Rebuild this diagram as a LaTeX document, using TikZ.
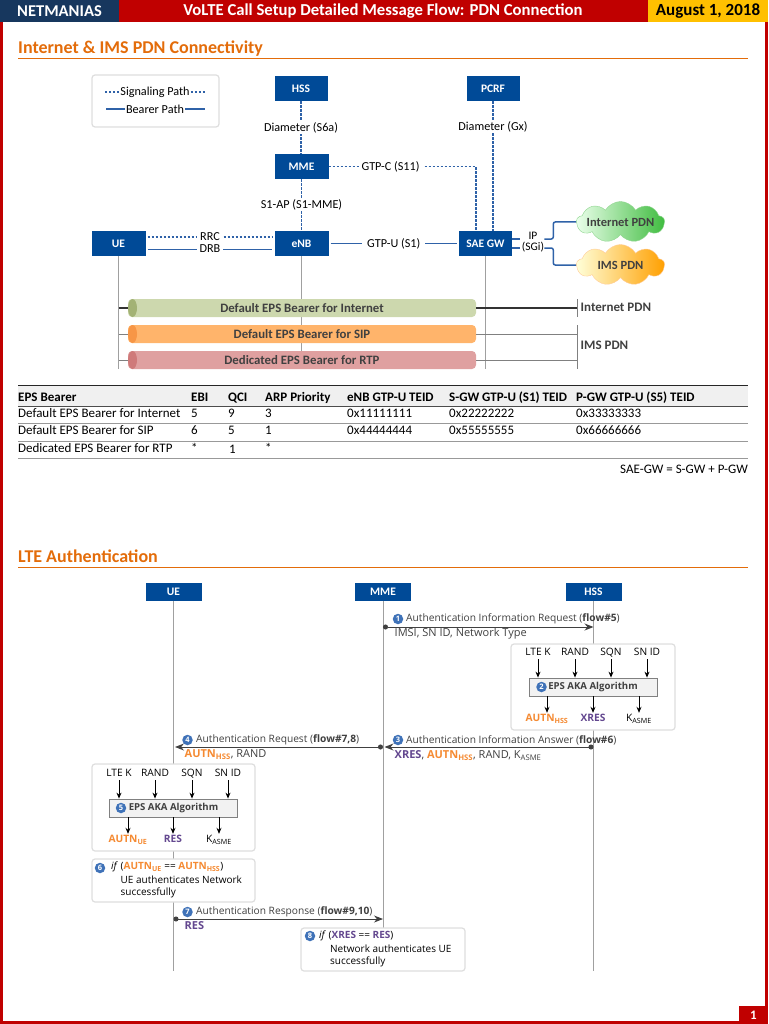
\documentclass[tikz,border=0pt]{standalone}
\usepackage{fontspec}
\setmainfont{Carlito}
\newfontfamily\msgfont{Open Sans}
\usetikzlibrary{arrows.meta,shapes.symbols}
\definecolor{barred}{HTML}{C00000}
\definecolor{brandnavy}{HTML}{17375E}
\definecolor{dategold}{HTML}{FFC000}
\definecolor{headorange}{HTML}{E36C0A}
\definecolor{netblue}{HTML}{004A97}
\definecolor{pathblue}{HTML}{2F62A8}
\definecolor{stepblue}{HTML}{3F72B8}
\definecolor{autnorange}{HTML}{F58A32}
\definecolor{respurple}{HTML}{63478F}
\definecolor{msggray}{HTML}{404040}
\definecolor{panelline}{HTML}{DEDEDE}
\definecolor{lifegray}{HTML}{A0A0A0}
\definecolor{pipegreen}{HTML}{CDD8AE}
\definecolor{capgreen}{HTML}{A3B275}
\definecolor{pipeorange}{HTML}{FFB46B}
\definecolor{caporange}{HTML}{F79646}
\definecolor{piperose}{HTML}{DFA0A0}
\definecolor{caprose}{HTML}{CF7A7A}
\newcommand{\autn}[1]{\textcolor{autnorange}{\textbf{AUTN\textsubscript{#1}}}}
\newcommand{\resb}[1]{\textcolor{respurple}{\textbf{#1}}}
\newcommand{\kasme}{K\textsubscript{ASME}}

\begin{document}
\begin{tikzpicture}[x=1pt, y=-1pt, >={Stealth[length=6pt,width=5pt]},
    netbox/.style={fill=netblue, text=white, font=\fontsize{11.5}{13}\selectfont\bfseries, inner sep=0pt, minimum width=53pt, minimum height=25pt},
    seqbox/.style={netbox, minimum width=56pt, minimum height=18pt},
    signal/.style={draw=pathblue, dash pattern=on 2.5pt off 1.5pt, line width=1.5pt},
    bearer/.style={draw=pathblue, line width=1.5pt},
    plainlbl/.style={font=\fontsize{12.2}{14}\selectfont, text=black, inner sep=1pt},
    cutlbl/.style={plainlbl, fill=white, inner xsep=3pt, inner ysep=1pt},
    heading/.style={font=\fontsize{18}{20}\selectfont\bfseries, text=headorange, anchor=west, inner sep=0pt},
    pipe/.style={rounded corners=4pt, inner sep=0pt, minimum width=348pt, minimum height=18pt},
    pipetxt/.style={font=\fontsize{12.8}{14}\selectfont\bfseries, text=msggray, inner sep=0pt},
    pdncloud/.style={cloud, cloud puffs=9, cloud puff arc=120, aspect=2.2, inner sep=0pt, minimum width=88pt, minimum height=41pt, font=\fontsize{12.5}{14}\selectfont\bfseries, text=msggray, shading angle=20},
    cell/.style={font=\fontsize{13}{15}\selectfont, text=black, anchor=west, inner sep=0pt, text height=9pt, text depth=3pt},
    headcell/.style={cell, font=\fontsize{13}{15}\selectfont\bfseries},
    msgtxt/.style={font=\msgfont\fontsize{10.2}{12}\selectfont, text=msggray, anchor=west, inner sep=0pt},
    subtxt/.style={msgtxt, font=\msgfont\fontsize{11}{13}\selectfont},
    notetxt/.style={msgtxt, font=\msgfont\fontsize{10}{12}\selectfont, text=black},
    stepno/.style={circle, fill=stepblue, text=white, font=\msgfont\fontsize{7.5}{8}\selectfont\bfseries, inner sep=0pt, minimum size=10.5pt},
    panel/.style={draw=panelline, line width=1.2pt, fill=white, rounded corners=3pt, inner sep=0pt},
    algo/.style={draw=gray, fill=black!5, line width=0.8pt, font=\msgfont\fontsize{9.6}{11}\selectfont\bfseries, text=msggray, inner sep=0pt, minimum width=128pt, minimum height=18pt},
    iotxt/.style={font=\msgfont\fontsize{10.2}{12}\selectfont, text=black, inner sep=1pt, text height=7.5pt, text depth=2.5pt},
    ioline/.style={->, draw=black, line width=0.9pt},
    life/.style={draw=lifegray, line width=1pt},
    msgline/.style={{Circle[length=5pt]}-{Stealth[length=9pt,width=7pt]}, draw=msggray, line width=1pt}]
  \useasboundingbox (0,0) rectangle (768,1024);

  \fill[barred] (0,0) rectangle (768,22);
  \fill[barred] (0,0) rectangle (3,1024);
  \fill[barred] (765,0) rectangle (768,1024);
  \fill[barred] (0,1021) rectangle (768,1024);
  \node[fill=brandnavy, text=white, font=\fontsize{16.5}{18}\selectfont\bfseries, minimum width=119pt, minimum height=22pt, inner sep=0pt] (brand) at (59.5,11) {NETMANIAS};
  \node[text=white, font=\fontsize{16.7}{18}\selectfont\bfseries, inner sep=0pt] (title) at (383,11) {VoLTE Call Setup Detailed Message Flow: PDN Connection};
  \node[fill=dategold, text=black, font=\fontsize{17}{19}\selectfont\bfseries, minimum width=120pt, minimum height=22pt, inner sep=0pt] (datebox) at (708,11) {August 1, 2018};
  \node[fill=barred, text=white, font=\fontsize{13}{15}\selectfont\bfseries, minimum width=29pt, minimum height=18pt, inner sep=0pt] (pageno) at (753.5,1015) {1};

  \node[heading] (secA) at (18,48.5) {Internet \& IMS PDN Connectivity};
  \draw[headorange, line width=0.8pt] (18,58) -- (748,58);

  \node[panel, minimum width=127pt, minimum height=52pt] (legend) at (155.5,101) {};
  \node[plainlbl] (sigtxt) at (155,92) {Signaling Path};
  \node[plainlbl] (beartxt) at (155,109) {Bearer Path};
  \draw[signal] (sigtxt.west) -- ++(-16,0);
  \draw[signal] (sigtxt.east) -- ++(16,0);
  \draw[bearer] (beartxt.west) -- ++(-19,0);
  \draw[bearer] (beartxt.east) -- ++(20,0);

  \node[netbox] (hss) at (301,88.5) {HSS};
  \node[netbox] (pcrf) at (493,88.5) {PCRF};
  \node[netbox, minimum width=54pt] (mme) at (301.5,166.5) {MME};
  \node[netbox, minimum width=54pt] (enb) at (301.5,243.5) {eNB};
  \node[netbox, minimum width=54pt] (ue) at (118.5,243.5) {UE};
  \node[netbox] (saegw) at (485.5,243.5) {SAE GW};
  \coordinate (s11end) at (476,231);

  \draw[signal] (hss.south) -- node[cutlbl] (s6a) {Diameter (S6a)} (hss.south|-mme.north);
  \draw[signal] (pcrf.south) -- node[cutlbl, pos=0.2] (gx) {Diameter (Gx)} (pcrf.south|-saegw.north);
  \draw[signal] (mme.east) -| node[cutlbl, pos=0.21] (s11) {GTP-C (S11)} (s11end);
  \draw[signal] (mme.south) -- node[cutlbl] (s1ap) {S1-AP (S1-MME)} (enb.north);
  \draw[signal, shorten <=2pt, shorten >=2pt] (ue.east|-0,237) -- node[cutlbl] (rrc) {RRC} (enb.west|-0,237);
  \draw[bearer, line width=0.9pt, shorten <=2pt, shorten >=2pt] (ue.east|-0,249) -- node[cutlbl] (drb) {DRB} (enb.west|-0,249);
  \draw[bearer, shorten <=2pt, shorten >=2pt] (enb.east) -- node[cutlbl, inner xsep=5pt] (s1u) {GTP-U (S1)} (saegw.west);

  \node[pdncloud, draw=green!45!gray!60, left color=green!8, right color=green!65!black!75] (inet) at (620.5,222) {\makebox[0pt]{Internet PDN}};
  \node[pdncloud, draw=orange!40, left color=yellow!15, right color=orange!75!yellow] (ims) at (620.5,265) {\makebox[0pt]{IMS PDN}};
  \node[plainlbl, font=\fontsize{11.5}{12}\selectfont, inner sep=0pt] (iplbl) at (533,235.5) {IP};
  \node[plainlbl, font=\fontsize{11.5}{12}\selectfont, inner sep=0pt] (sgilbl) at (533,247.5) {(SGi)};
  \draw[bearer] (saegw.east|-0,239) -- ++(8,0);
  \draw[bearer] (saegw.east|-0,248) -- ++(8,0);
  \draw[bearer, rounded corners=2pt] (sgilbl.east|-0,239) -- ++(9,0) |- (inet.west);
  \draw[bearer, rounded corners=2pt] (sgilbl.east|-0,248) -- ++(9,0) |- (ims.west);

  \draw[life] (ue.south) -- (ue.south|-0,369);
  \draw[life] (enb.south) -- (enb.south|-0,369);
  \draw[life] (saegw.south) -- (saegw.south|-0,369);

  \node[pipe, fill=pipegreen] (pipea) at (302,308) {};
  \node[pipe, fill=pipeorange] (pipeb) at (302,334) {};
  \node[pipe, fill=piperose] (pipec) at (302,360) {};
  \fill[capgreen] (132.5,308) ellipse (4.5 and 9);
  \fill[caporange] (132.5,334) ellipse (4.5 and 9);
  \fill[caprose] (132.5,360) ellipse (4.5 and 9);
  \node[pipetxt] (pipeatxt) at (pipea) {Default EPS Bearer for Internet};
  \node[pipetxt] (pipebtxt) at (pipeb) {Default EPS Bearer for SIP};
  \node[pipetxt] (pipectxt) at (pipec) {Dedicated EPS Bearer for RTP};

  \coordinate (pdnend) at (577,308);
  \draw[black!80, line width=1.4pt] (ue.south|-pipea) -- (128,308);
  \draw[black!80, line width=1.4pt] (pipea.east) -- (pdnend);
  \draw[gray, line width=0.8pt] (ue.south|-pipeb) -- (128,334);
  \draw[gray, line width=0.8pt] (pipeb.east) -- (pdnend|-pipeb);
  \draw[gray, line width=0.8pt] (ue.south|-pipec) -- (128,360);
  \draw[gray, line width=0.8pt] (pipec.east) -- (pdnend|-pipec);
  \draw[gray, line width=0.8pt] (577,299) -- (577,317);
  \draw[gray, line width=0.8pt] (577,325) -- (577,369);
  \node[headcell, text=msggray] (pdna) at (580.5,308) {Internet PDN};
  \node[headcell, text=msggray] (pdnb) at (580.5,346) {IMS PDN};

  \fill[black!6] (18,386) rectangle (748,406);
  \draw[black!85, line width=1pt] (18,385.5) -- (748,385.5);
  \draw[black!70, line width=1pt] (18,406.5) -- (748,406.5);
  \foreach \y in {423,441,458}
    \draw[gray!80, line width=0.8pt] (18,\y) -- (748,\y);
  \foreach \x/\txt [count=\i] in {18/EPS Bearer,191/EBI,228/QCI,265/ARP Priority,347/eNB GTP-U TEID,449/S-GW GTP-U (S1) TEID,576/P-GW GTP-U (S5) TEID}
    \node[headcell] (th\i) at (\x,398) {\txt};
  \foreach \y/\a/\b/\c/\d/\e/\f/\g [count=\r] in {
      414/Default EPS Bearer for Internet/5/9/3/0x11111111/0x22222222/0x33333333,
      431/Default EPS Bearer for SIP/6/5/1/0x44444444/0x55555555/0x66666666} {
    \node[cell] (tr\r a) at (18,\y) {\a};
    \node[cell] (tr\r b) at (191,\y) {\b};
    \node[cell] (tr\r c) at (228,\y) {\c};
    \node[cell] (tr\r d) at (265,\y) {\d};
    \node[cell] (tr\r e) at (347,\y) {\e};
    \node[cell] (tr\r f) at (449,\y) {\f};
    \node[cell] (tr\r g) at (576,\y) {\g};
  }
  \node[cell] (tr3a) at (18,449) {Dedicated EPS Bearer for RTP};
  \node[cell] (tr3b) at (191,449) {*};
  \node[cell] (tr3c) at (229,450) {1};
  \node[cell] (tr3d) at (265,449) {*};
  \node[cell, anchor=east] (sumlbl) at (748,470) {SAE-GW = S-GW + P-GW};

  \node[heading] (secB) at (18,556) {LTE Authentication};
  \draw[headorange, line width=0.8pt] (18,567) -- (748,567);

  \node[seqbox] (seque) at (173.5,592) {UE};
  \node[seqbox] (seqmme) at (383,592) {MME};
  \node[seqbox] (seqhss) at (593.5,592) {HSS};
  \draw[life] (seque.south) -- (seque.south|-0,971);
  \draw[life] (seqmme.south) -- (seqmme.south|-0,971);
  \draw[life] (seqhss.south) -- (seqhss.south|-0,971);

  \draw[msgline] (seqmme|-0,627) -- (seqhss|-0,627);
  \node[stepno] (no1) at (398,619) {1};
  \node[msgtxt] (m1) at (406,619) {Authentication Information Request (\textbf{flow\#5})};
  \node[subtxt] (m1b) at (394.5,633.5) {IMSI, SN ID, Network Type};

  \node[panel, minimum width=164pt, minimum height=86pt] (panelh) at (593,687) {};
  \node[algo] (algoh) at (593,687) {EPS AKA Algorithm};
  \node[stepno] (no2) at (541.5,687) {2};
  \foreach \x/\txt [count=\i] in {538/LTE K,575/RAND,611/SQN,647/SN ID} {
    \node[iotxt] (hin\i) at (\x,653) {\txt};
    \draw[ioline] (hin\i) -- (hin\i|-algoh.north);
  }
  \node[iotxt] (hout1) at (547,719) {\autn{HSS}};
  \node[iotxt] (hout2) at (593,719) {\resb{XRES}};
  \node[iotxt] (hout3) at (639,719) {\kasme};
  \foreach \i in {1,2,3}
    \draw[ioline] (algoh.south-|hout\i) -- (hout\i);

  \draw[msgline] (seqhss|-0,747) -- ([xshift=1.5pt]seqmme|-0,747);
  \node[stepno] (no3) at (398,740) {3};
  \node[msgtxt] (m3) at (406,740) {Authentication Information Answer (\textbf{flow\#6})};
  \node[subtxt] (m3b) at (394.5,755.5) {\resb{XRES}, \autn{HSS}, RAND, \kasme};

  \draw[msgline] (seqmme|-0,747) -- ([xshift=1.5pt]seque|-0,747);
  \node[stepno] (no4) at (187.5,740) {4};
  \node[msgtxt] (m4) at (196,740) {Authentication Request (\textbf{flow\#7,8})};
  \node[subtxt] (m4b) at (184.5,754.5) {\autn{HSS}, RAND};

  \node[panel, minimum width=163pt, minimum height=87pt] (panelu) at (173.5,807.5) {};
  \node[algo] (algou) at (173.5,808) {EPS AKA Algorithm};
  \node[stepno] (no5) at (121,808) {5};
  \foreach \x/\txt [count=\i] in {119/LTE K,155/RAND,192/SQN,228/SN ID} {
    \node[iotxt] (uin\i) at (\x,774) {\txt};
    \draw[ioline] (uin\i) -- (uin\i|-algou.north);
  }
  \node[iotxt] (uout1) at (128,840) {\autn{UE}};
  \node[iotxt] (uout2) at (173,840) {\resb{RES}};
  \node[iotxt] (uout3) at (219,840) {\kasme};
  \foreach \i in {1,2,3}
    \draw[ioline] (algou.south-|uout\i) -- (uout\i);

  \node[panel, minimum width=163pt, minimum height=43pt] (panelsix) at (173.5,880.5) {};
  \node[stepno] (no6) at (100,868) {6};
  \node[notetxt] (six) at (111,867) {\textit{if} (\autn{UE} == \autn{HSS})};
  \node[notetxt] (sixb) at (120.5,880) {UE authenticates Network};
  \node[notetxt] (sixc) at (120.5,893) {successfully};

  \draw[msgline] (seque|-0,919) -- (seqmme|-0,919);
  \node[stepno] (no7) at (187.5,912) {7};
  \node[msgtxt] (m7) at (196,912) {Authentication Response (\textbf{flow\#9,10})};
  \node[subtxt] (m7b) at (184.5,926) {\resb{RES}};

  \node[panel, minimum width=164pt, minimum height=43pt] (paneleight) at (383,949.5) {};
  \node[stepno] (no8) at (310,936) {8};
  \node[notetxt] (eight) at (319,936) {\textit{if} (\resb{XRES} == \resb{RES})};
  \node[notetxt] (eightb) at (330,949) {Network authenticates UE};
  \node[notetxt] (eightc) at (330,962) {successfully};
\end{tikzpicture}
\end{document}
